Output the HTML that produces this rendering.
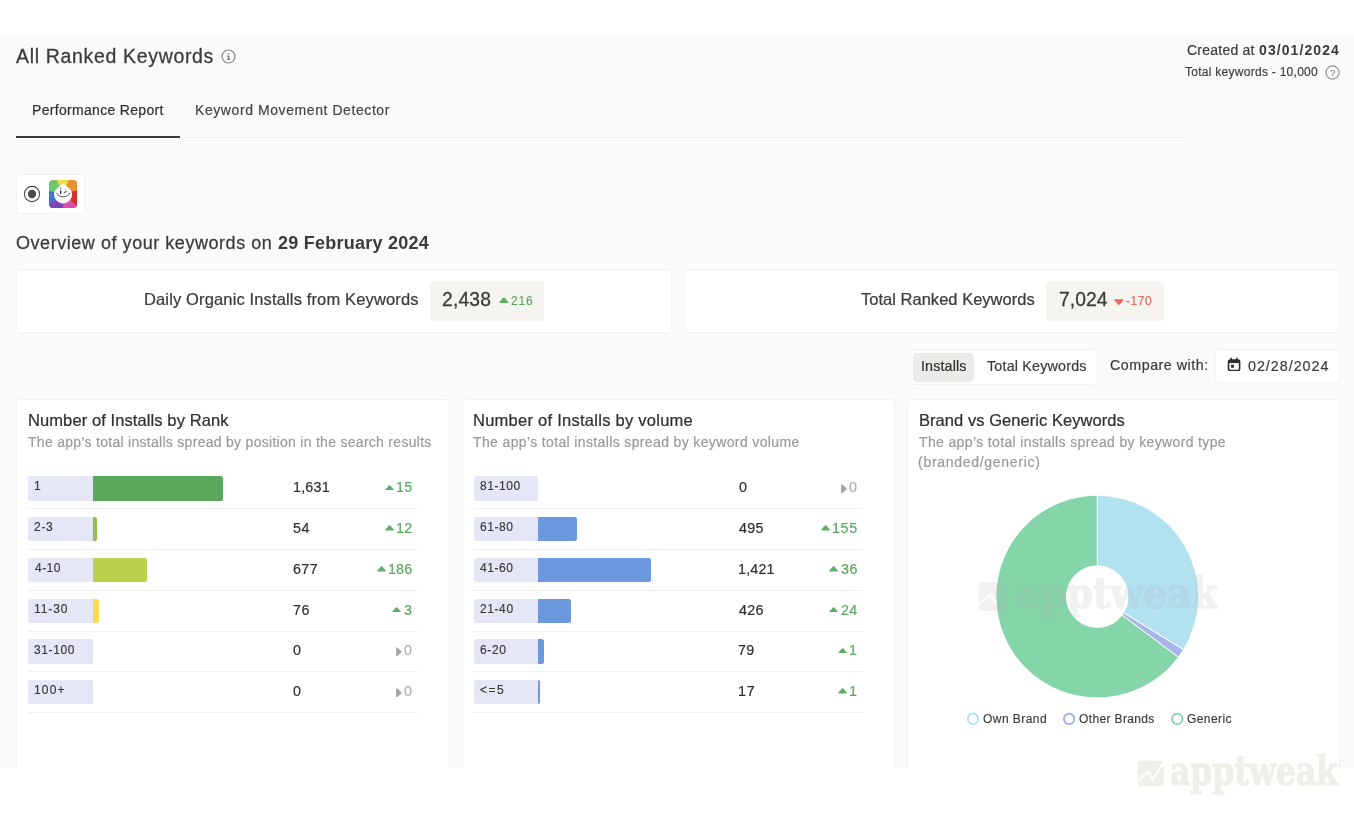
<!DOCTYPE html>
<html lang="en">
<head>
<meta charset="utf-8">
<title>All Ranked Keywords</title>
<style>
*{box-sizing:border-box;margin:0;padding:0}
html,body{width:1354px;height:814px;overflow:hidden;background:#fff}
body{font-family:"Liberation Sans",sans-serif;color:#3b3b39;position:relative}
.abs{position:absolute;white-space:nowrap}
#bg{position:absolute;left:0;top:36px;width:1354px;height:732px;background:#fafafa}
.card{position:absolute;background:#fff;border:1px solid #f3f2ef;border-radius:3.5px}
.t{position:absolute;white-space:nowrap;line-height:1;-webkit-text-stroke:0.014em}
b{-webkit-text-stroke:0}
.lab{width:65.5px;height:24.3px;background:#e5e6f6;border-radius:3px 0 0 3px}
.dv{width:388.6px;height:1px;background:#efefed}
</style>
</head>
<body>
<div id="bg"></div>

<!-- header icons -->
<svg class="abs" style="left:220.5px;top:49.15px" width="15" height="15" viewBox="0 0 15 15"><circle cx="7.5" cy="7.5" r="6.5" fill="none" stroke="#858582" stroke-width="1.2"/><rect x="6.95" y="6.7" width="1.4" height="3.6" fill="#7a7a77"/><rect x="6.85" y="4.1" width="1.45" height="1.3" fill="#7a7a77"/><rect x="5.8" y="10" width="3.5" height="0.95" fill="#7a7a77"/><rect x="5.9" y="6.7" width="1.7" height="0.95" fill="#7a7a77"/></svg>
<svg class="abs" style="left:1325.4px;top:64.9px" width="15" height="15" viewBox="0 0 15 15"><circle cx="7.5" cy="7.5" r="6.6" fill="none" stroke="#92928f" stroke-width="1.2"/></svg>

<!-- tabs -->
<div class="abs" style="left:16px;top:137px;width:1168px;height:1px;background:#efefec"></div>
<div class="abs" style="left:16px;top:136px;width:164px;height:2px;background:#3a3a38"></div>

<!-- app selector -->
<div class="card" style="left:16px;top:174px;width:68.5px;height:39.5px;border-radius:4px"></div>
<svg class="abs" style="left:23px;top:185px" width="18" height="18" viewBox="0 0 18 18"><circle cx="9" cy="9" r="7.6" fill="#fff" stroke="#4a4a47" stroke-width="1.1"/><circle cx="9" cy="9" r="4.2" fill="#4a4a47"/></svg>
<svg class="abs" style="left:48.9px;top:179.8px" width="28.2" height="28.2" viewBox="0 0 28 28">
<defs><clipPath id="rr"><rect x="0" y="0" width="28" height="28" rx="4.3" ry="4.3"/></clipPath></defs>
<g clip-path="url(#rr)">
<rect width="28" height="28" fill="#d83a32"/>
<polygon points="14,14 -2,10.7 -2,-2 6.6,-2" fill="#6fc86b"/>
<polygon points="14,14 6.6,-2 20.9,-2" fill="#f3dd4b"/>
<polygon points="14,14 20.9,-2 30,-2 30,10" fill="#e8912f"/>
<polygon points="14,14 30,10 30,23 27.6,25.6" fill="#d62f2f"/>
<polygon points="14,14 27.6,25.6 30,30 14,30" fill="#d94fa9"/>
<polygon points="14,14 14,30 -2,30 0,25.1" fill="#7b45b8"/>
<polygon points="14,14 0,25.1 -2,30 -2,10.7" fill="#4173cf"/>
<path d="M14 3.3 C14.9 3.3 15.4 4.6 16.6 5.7 C19.5 8 23 10 23 14.3 A9 9 0 0 1 5 14.3 C5 10 8.5 8 11.4 5.7 C12.6 4.6 13.1 3.3 14 3.3Z" fill="#fff"/>
<path d="M7.3 12.9 Q8.8 16.6 13.9 16.7 Q19.2 16.6 20.7 12.8" fill="none" stroke="#3a3a3a" stroke-width="0.85" stroke-linecap="round"/>
<rect x="10.9" y="10.2" width="1.25" height="3.8" rx="0.3" fill="#2b2b2b"/>
<circle cx="11.5" cy="8.4" r="0.6" fill="#3a3a3a"/>
<path d="M15.1 12.7 Q16 11.2 17.6 11.7" fill="none" stroke="#4a4a4a" stroke-width="1" stroke-linecap="round"/>
<circle cx="16.5" cy="9.5" r="0.5" fill="#8a8a8a"/>
</g></svg>

<!-- stat cards -->
<div class="card" style="left:16px;top:269px;width:656px;height:64px"></div>
<div class="card" style="left:684px;top:269px;width:656px;height:64px"></div>
<div class="abs" style="left:430px;top:280.5px;width:114.2px;height:40.2px;background:#f5f4f0;border-radius:4px"></div>
<svg class="abs" style="left:499px;top:296.9px" width="9.8" height="6.1" viewBox="0 0 10 6"><path d="M1 6 Q-0.3 6 0.5 4.9 L3.9 0.9 Q5 -0.3 6.1 0.9 L9.5 4.9 Q10.3 6 9 6 Z" fill="#5fae68"/></svg>
<div class="abs" style="left:1046.3px;top:280.5px;width:117.6px;height:40.2px;background:#f5f4f0;border-radius:4px"></div>
<svg class="abs" style="left:1114.4px;top:298.8px" width="9.9" height="6.2" viewBox="0 0 10 6"><path d="M1 0 Q-0.3 0 0.5 1.1 L3.9 5.1 Q5 6.3 6.1 5.1 L9.5 1.1 Q10.3 0 9 0 Z" fill="#e7685c"/></svg>

<!-- toggle -->
<div class="card" style="left:910px;top:349.3px;width:187.7px;height:36px"></div>
<div class="abs" style="left:913.1px;top:352.8px;width:61.3px;height:29.2px;background:#ecebe7;border-radius:4.5px"></div>
<div class="card" style="left:1215.4px;top:349.3px;width:124.2px;height:34px"></div>
<svg class="abs" style="left:1227.1px;top:356.7px" width="14.3" height="14.6" viewBox="0 0 15 15"><rect x="1.6" y="3" width="11.6" height="11" rx="1.6" fill="none" stroke="#2f2f2d" stroke-width="1.7"/><rect x="1.6" y="3" width="11.6" height="3.2" fill="#2f2f2d"/><rect x="3.6" y="0.6" width="1.7" height="3" fill="#2f2f2d"/><rect x="9.5" y="0.6" width="1.7" height="3" fill="#2f2f2d"/><rect x="4.2" y="8" width="3.1" height="3.1" fill="#2f2f2d"/></svg>

<!-- panels -->
<div class="card" style="left:16px;top:399.3px;width:433.5px;height:380px"></div>
<div class="card" style="left:462px;top:399.3px;width:432.7px;height:380px"></div>
<div class="card" style="left:907.4px;top:399.3px;width:432.2px;height:380px"></div>
<svg class="abs" style="left:0;top:0" width="1354" height="814" viewBox="0 0 1354 814"><path d="M1097.30 495.30 A101.3 101.3 0 0 1 1183.58 649.68 L1123.53 612.74 A30.8 30.8 0 0 0 1097.30 565.80 Z" fill="#b2e2f0" stroke="#fff" stroke-width="1" stroke-linejoin="round"/><path d="M1183.58 649.68 A101.3 101.3 0 0 1 1178.41 657.28 L1121.96 615.05 A30.8 30.8 0 0 0 1123.53 612.74 Z" fill="#a9b4ea" stroke="#fff" stroke-width="1" stroke-linejoin="round"/><path d="M1178.41 657.28 A101.3 101.3 0 1 1 1097.30 495.30 L1097.30 565.80 A30.8 30.8 0 1 0 1121.96 615.05 Z" fill="#84d5a8" stroke="#fff" stroke-width="1" stroke-linejoin="round"/><circle cx="973.0" cy="718.9" r="5.2" fill="#fff" stroke="#a9dff1" stroke-width="1.7"/><circle cx="1069.1" cy="718.9" r="5.2" fill="#fff" stroke="#98a8ee" stroke-width="1.7"/><circle cx="1177.2" cy="718.9" r="5.2" fill="#fff" stroke="#82d4a6" stroke-width="1.7"/></svg>
<div class="abs lab" style="left:28.45px;top:476.25px"></div>
<div class="abs" style="left:92.95px;top:476.25px;width:130.2px;height:24.3px;background:#5aa75e;border-radius:0 2.5px 2.5px 0"></div>
<svg class="abs" style="left:384.5px;top:484.50px" width="9.2" height="5.5" viewBox="0 0 10 6"><path d="M1 6 Q-0.3 6 0.5 4.9 L3.9 0.9 Q5 -0.3 6.1 0.9 L9.5 4.9 Q10.3 6 9 6 Z" fill="#5fae68"/></svg>
<div class="abs dv" style="left:28.45px;top:508.35px"></div>
<div class="abs lab" style="left:28.45px;top:517.03px"></div>
<div class="abs" style="left:92.95px;top:517.03px;width:3.8px;height:24.3px;background:#8fc04a;border-radius:0 2.5px 2.5px 0"></div>
<svg class="abs" style="left:384.5px;top:525.28px" width="9.2" height="5.5" viewBox="0 0 10 6"><path d="M1 6 Q-0.3 6 0.5 4.9 L3.9 0.9 Q5 -0.3 6.1 0.9 L9.5 4.9 Q10.3 6 9 6 Z" fill="#5fae68"/></svg>
<div class="abs dv" style="left:28.45px;top:549.13px"></div>
<div class="abs lab" style="left:28.45px;top:557.81px"></div>
<div class="abs" style="left:92.95px;top:557.81px;width:54.1px;height:24.3px;background:#bad14c;border-radius:0 2.5px 2.5px 0"></div>
<svg class="abs" style="left:376.5px;top:566.06px" width="9.2" height="5.5" viewBox="0 0 10 6"><path d="M1 6 Q-0.3 6 0.5 4.9 L3.9 0.9 Q5 -0.3 6.1 0.9 L9.5 4.9 Q10.3 6 9 6 Z" fill="#5fae68"/></svg>
<div class="abs dv" style="left:28.45px;top:589.91px"></div>
<div class="abs lab" style="left:28.45px;top:598.59px"></div>
<div class="abs" style="left:92.95px;top:598.59px;width:5.8px;height:24.3px;background:#f8dc4e;border-radius:0 2.5px 2.5px 0"></div>
<svg class="abs" style="left:391.8px;top:606.84px" width="9.2" height="5.5" viewBox="0 0 10 6"><path d="M1 6 Q-0.3 6 0.5 4.9 L3.9 0.9 Q5 -0.3 6.1 0.9 L9.5 4.9 Q10.3 6 9 6 Z" fill="#5fae68"/></svg>
<div class="abs dv" style="left:28.45px;top:630.69px"></div>
<div class="abs lab" style="left:28.45px;top:639.37px;width:64.5px"></div>
<svg class="abs" style="left:395.9px;top:646.77px" width="6" height="9.5" viewBox="0 0 6 10"><path d="M0 1 Q0 -0.3 1.1 0.5 L5.2 4 Q6.3 5 5.2 6 L1.1 9.5 Q0 10.3 0 9 Z" fill="#a3a3a0"/></svg>
<div class="abs dv" style="left:28.45px;top:671.47px"></div>
<div class="abs lab" style="left:28.45px;top:680.15px;width:64.5px"></div>
<svg class="abs" style="left:395.9px;top:687.55px" width="6" height="9.5" viewBox="0 0 6 10"><path d="M0 1 Q0 -0.3 1.1 0.5 L5.2 4 Q6.3 5 5.2 6 L1.1 9.5 Q0 10.3 0 9 Z" fill="#a3a3a0"/></svg>
<div class="abs dv" style="left:28.45px;top:712.25px"></div>
<div class="abs lab" style="left:473.85px;top:476.25px;width:64.5px"></div>
<svg class="abs" style="left:841.2px;top:483.65px" width="6" height="9.5" viewBox="0 0 6 10"><path d="M0 1 Q0 -0.3 1.1 0.5 L5.2 4 Q6.3 5 5.2 6 L1.1 9.5 Q0 10.3 0 9 Z" fill="#a3a3a0"/></svg>
<div class="abs dv" style="left:473.85px;top:508.35px"></div>
<div class="abs lab" style="left:473.85px;top:517.03px"></div>
<div class="abs" style="left:538.35px;top:517.03px;width:39.0px;height:24.3px;background:#6c99de;border-radius:0 2.5px 2.5px 0"></div>
<svg class="abs" style="left:821.0px;top:525.28px" width="9.2" height="5.5" viewBox="0 0 10 6"><path d="M1 6 Q-0.3 6 0.5 4.9 L3.9 0.9 Q5 -0.3 6.1 0.9 L9.5 4.9 Q10.3 6 9 6 Z" fill="#5fae68"/></svg>
<div class="abs dv" style="left:473.85px;top:549.13px"></div>
<div class="abs lab" style="left:473.85px;top:557.81px"></div>
<div class="abs" style="left:538.35px;top:557.81px;width:112.4px;height:24.3px;background:#6c99de;border-radius:0 2.5px 2.5px 0"></div>
<svg class="abs" style="left:829.0px;top:566.06px" width="9.2" height="5.5" viewBox="0 0 10 6"><path d="M1 6 Q-0.3 6 0.5 4.9 L3.9 0.9 Q5 -0.3 6.1 0.9 L9.5 4.9 Q10.3 6 9 6 Z" fill="#5fae68"/></svg>
<div class="abs dv" style="left:473.85px;top:589.91px"></div>
<div class="abs lab" style="left:473.85px;top:598.59px"></div>
<div class="abs" style="left:538.35px;top:598.59px;width:32.6px;height:24.3px;background:#6c99de;border-radius:0 2.5px 2.5px 0"></div>
<svg class="abs" style="left:829.0px;top:606.84px" width="9.2" height="5.5" viewBox="0 0 10 6"><path d="M1 6 Q-0.3 6 0.5 4.9 L3.9 0.9 Q5 -0.3 6.1 0.9 L9.5 4.9 Q10.3 6 9 6 Z" fill="#5fae68"/></svg>
<div class="abs dv" style="left:473.85px;top:630.69px"></div>
<div class="abs lab" style="left:473.85px;top:639.37px"></div>
<div class="abs" style="left:538.35px;top:639.37px;width:5.4px;height:24.3px;background:#6c99de;border-radius:0 2.5px 2.5px 0"></div>
<svg class="abs" style="left:838.0px;top:647.62px" width="9.2" height="5.5" viewBox="0 0 10 6"><path d="M1 6 Q-0.3 6 0.5 4.9 L3.9 0.9 Q5 -0.3 6.1 0.9 L9.5 4.9 Q10.3 6 9 6 Z" fill="#5fae68"/></svg>
<div class="abs dv" style="left:473.85px;top:671.47px"></div>
<div class="abs lab" style="left:473.85px;top:680.15px"></div>
<div class="abs" style="left:538.35px;top:680.15px;width:1.4px;height:24.3px;background:#6c99de;border-radius:0 2.5px 2.5px 0"></div>
<svg class="abs" style="left:838.0px;top:688.40px" width="9.2" height="5.5" viewBox="0 0 10 6"><path d="M1 6 Q-0.3 6 0.5 4.9 L3.9 0.9 Q5 -0.3 6.1 0.9 L9.5 4.9 Q10.3 6 9 6 Z" fill="#5fae68"/></svg>
<div class="abs dv" style="left:473.85px;top:712.25px"></div>
<div id="txt" style="position:absolute;left:0;top:0;width:1354px;height:814px;will-change:transform">
<div class="t" id="title" style="left:16px;top:47.00px;font-size:19.5px;letter-spacing:0.665px;color:#3b3b39">All Ranked Keywords</div>
<div class="t" id="created_a" style="left:1187px;top:43.00px;font-size:14px;letter-spacing:0.236px;color:#3b3b39">Created at</div>
<div class="t" id="created_b" style="left:1259px;top:43.00px;font-size:14px;letter-spacing:1.092px;color:#3b3b39"><b>03/01/2024</b></div>
<div class="t" id="totalkw" style="left:1185px;top:66.00px;font-size:12px;letter-spacing:0.271px;color:#3b3b39">Total keywords - 10,000</div>
<div class="t" id="qm" style="left:1330px;top:68.00px;font-size:9.6px;letter-spacing:0.000px;color:#858582">?</div>
<div class="t" id="tab1" style="left:32px;top:103.00px;font-size:14px;letter-spacing:0.313px;color:#2f2f2d">Performance Report</div>
<div class="t" id="tab2" style="left:195px;top:103.00px;font-size:14px;letter-spacing:0.578px;color:#454543">Keyword Movement Detector</div>
<div class="t" id="ov_a" style="left:16px;top:234.00px;font-size:18px;letter-spacing:0.546px;color:#3b3b39">Overview of your keywords on</div>
<div class="t" id="ov_b" style="left:278px;top:234.00px;font-size:18px;letter-spacing:0.250px;color:#3b3b39"><b>29 February 2024</b></div>
<div class="t" id="s1l" style="left:144px;top:291.00px;font-size:16.5px;letter-spacing:0.139px;color:#3b3b39">Daily Organic Installs from Keywords</div>
<div class="t" id="s1v" style="left:442px;top:290.00px;font-size:19.3px;letter-spacing:0.156px;color:#3b3b39">2,438</div>
<div class="t" id="s1d" style="left:511px;top:295.00px;font-size:12px;letter-spacing:0.808px;color:#5aa85f">216</div>
<div class="t" id="s2l" style="left:861px;top:291.00px;font-size:16.5px;letter-spacing:0.018px;color:#3b3b39">Total Ranked Keywords</div>
<div class="t" id="s2v" style="left:1059px;top:290.00px;font-size:19.3px;letter-spacing:0.069px;color:#3b3b39">7,024</div>
<div class="t" id="s2d" style="left:1126px;top:295.00px;font-size:12px;letter-spacing:0.579px;color:#e7685c">-170</div>
<div class="t" id="tg1" style="left:921px;top:359.00px;font-size:14.3px;letter-spacing:0.143px;color:#2f2f2d">Installs</div>
<div class="t" id="tg2" style="left:987px;top:359.00px;font-size:14.3px;letter-spacing:0.191px;color:#3b3b39">Total Keywords</div>
<div class="t" id="cmp" style="left:1110px;top:358.00px;font-size:14.3px;letter-spacing:0.502px;color:#3b3b39">Compare with:</div>
<div class="t" id="date" style="left:1248px;top:359.00px;font-size:14.3px;letter-spacing:0.984px;color:#3b3b39">02/28/2024</div>
<div class="t" id="p1t" style="left:28px;top:412.00px;font-size:16.5px;letter-spacing:0.095px;color:#2f2f2d">Number of Installs by Rank</div>
<div class="t" id="p1s" style="left:28px;top:435.00px;font-size:14px;letter-spacing:0.287px;color:#9a9a97">The app’s total installs spread by position in the search results</div>
<div class="t" id="p2t" style="left:473px;top:412.00px;font-size:16.5px;letter-spacing:0.260px;color:#2f2f2d">Number of Installs by volume</div>
<div class="t" id="p2s" style="left:473px;top:435.00px;font-size:14px;letter-spacing:0.366px;color:#9a9a97">The app’s total installs spread by keyword volume</div>
<div class="t" id="p3t" style="left:919px;top:412.00px;font-size:16.5px;letter-spacing:0.052px;color:#2f2f2d">Brand vs Generic Keywords</div>
<div class="t" id="p3s" style="left:919px;top:435.00px;font-size:14px;letter-spacing:0.362px;color:#9a9a97">The app’s total installs spread by keyword type</div>
<div class="t" id="p3s2" style="left:918px;top:455.00px;font-size:14px;letter-spacing:0.714px;color:#9a9a97">(branded/generic)</div>
<div class="t" id="lg1" style="left:983px;top:713.00px;font-size:12px;letter-spacing:0.446px;color:#3b3b39">Own Brand</div>
<div class="t" id="lg2" style="left:1079px;top:713.00px;font-size:12px;letter-spacing:0.361px;color:#3b3b39">Other Brands</div>
<div class="t" id="lg3" style="left:1187px;top:713.00px;font-size:12px;letter-spacing:0.405px;color:#3b3b39">Generic</div>
<div class="t" id="al0" style="left:34px;top:480.00px;font-size:12px;letter-spacing:0.000px;color:#3a3a38">1</div>
<div class="t" id="av0" style="left:293px;top:480.00px;font-size:14.3px;letter-spacing:0.209px;color:#2f2f2d">1,631</div>
<div class="t" id="ad0" style="left:396px;top:480.00px;font-size:14.3px;letter-spacing:0.217px;color:#5aa85f">15</div>
<div class="t" id="al1" style="left:34px;top:521.00px;font-size:12px;letter-spacing:0.714px;color:#3a3a38">2-3</div>
<div class="t" id="av1" style="left:293px;top:521.00px;font-size:14.3px;letter-spacing:0.562px;color:#2f2f2d">54</div>
<div class="t" id="ad1" style="left:396px;top:521.00px;font-size:14.3px;letter-spacing:0.306px;color:#5aa85f">12</div>
<div class="t" id="al2" style="left:35px;top:562.00px;font-size:12px;letter-spacing:0.476px;color:#3a3a38">4-10</div>
<div class="t" id="av2" style="left:293px;top:562.00px;font-size:14.3px;letter-spacing:0.405px;color:#2f2f2d">677</div>
<div class="t" id="ad2" style="left:388px;top:562.00px;font-size:14.3px;letter-spacing:0.147px;color:#5aa85f">186</div>
<div class="t" id="al3" style="left:34px;top:603.00px;font-size:12px;letter-spacing:0.912px;color:#3a3a38">11-30</div>
<div class="t" id="av3" style="left:293px;top:603.00px;font-size:14.3px;letter-spacing:0.584px;color:#2f2f2d">76</div>
<div class="t" id="ad3" style="left:404px;top:603.00px;font-size:14.3px;letter-spacing:0.000px;color:#5aa85f">3</div>
<div class="t" id="al4" style="left:34px;top:644.00px;font-size:12px;letter-spacing:0.628px;color:#3a3a38">31-100</div>
<div class="t" id="av4" style="left:293px;top:643.00px;font-size:14.3px;letter-spacing:0.000px;color:#2f2f2d">0</div>
<div class="t" id="ad4" style="left:404px;top:643.00px;font-size:14.3px;letter-spacing:0.000px;color:#adadaa">0</div>
<div class="t" id="al5" style="left:34px;top:684.00px;font-size:12px;letter-spacing:1.193px;color:#3a3a38">100+</div>
<div class="t" id="av5" style="left:293px;top:684.00px;font-size:14.3px;letter-spacing:0.000px;color:#2f2f2d">0</div>
<div class="t" id="ad5" style="left:404px;top:684.00px;font-size:14.3px;letter-spacing:0.000px;color:#adadaa">0</div>
<div class="t" id="bl0" style="left:480px;top:480.00px;font-size:12px;letter-spacing:0.547px;color:#3a3a38">81-100</div>
<div class="t" id="bv0" style="left:739px;top:480.00px;font-size:14.3px;letter-spacing:0.000px;color:#2f2f2d">0</div>
<div class="t" id="bd0" style="left:849px;top:480.00px;font-size:14.3px;letter-spacing:0.000px;color:#adadaa">0</div>
<div class="t" id="bl1" style="left:480px;top:521.00px;font-size:12px;letter-spacing:0.586px;color:#3a3a38">61-80</div>
<div class="t" id="bv1" style="left:739px;top:521.00px;font-size:14.3px;letter-spacing:0.282px;color:#2f2f2d">495</div>
<div class="t" id="bd1" style="left:832px;top:521.00px;font-size:14.3px;letter-spacing:0.625px;color:#5aa85f">155</div>
<div class="t" id="bl2" style="left:480px;top:562.00px;font-size:12px;letter-spacing:0.528px;color:#3a3a38">41-60</div>
<div class="t" id="bv2" style="left:738px;top:562.00px;font-size:14.3px;letter-spacing:0.192px;color:#2f2f2d">1,421</div>
<div class="t" id="bd2" style="left:841px;top:562.00px;font-size:14.3px;letter-spacing:0.619px;color:#5aa85f">36</div>
<div class="t" id="bl3" style="left:480px;top:603.00px;font-size:12px;letter-spacing:0.590px;color:#3a3a38">21-40</div>
<div class="t" id="bv3" style="left:739px;top:603.00px;font-size:14.3px;letter-spacing:0.275px;color:#2f2f2d">426</div>
<div class="t" id="bd3" style="left:841px;top:603.00px;font-size:14.3px;letter-spacing:0.383px;color:#5aa85f">24</div>
<div class="t" id="bl4" style="left:480px;top:644.00px;font-size:12px;letter-spacing:0.614px;color:#3a3a38">6-20</div>
<div class="t" id="bv4" style="left:738px;top:643.00px;font-size:14.3px;letter-spacing:0.270px;color:#2f2f2d">79</div>
<div class="t" id="bd4" style="left:849px;top:643.00px;font-size:14.3px;letter-spacing:0.000px;color:#5aa85f">1</div>
<div class="t" id="bl5" style="left:480px;top:684.00px;font-size:12px;letter-spacing:1.496px;color:#3a3a38">&lt;=5</div>
<div class="t" id="bv5" style="left:738px;top:684.00px;font-size:14.3px;letter-spacing:0.919px;color:#2f2f2d">17</div>
<div class="t" id="bd5" style="left:849px;top:684.00px;font-size:14.3px;letter-spacing:0.000px;color:#5aa85f">1</div>
</div>
<svg class="abs" style="left:0;top:0;pointer-events:none" width="1354" height="814" viewBox="0 0 1354 814"><defs><mask id="m1"><rect x="0" y="0" width="28.9" height="28.9" fill="#fff"/><path d="M-0.58 23.12 L11.56 12.43 L16.76 20.81 L29.48 1.16" fill="none" stroke="#000" stroke-width="2.46" stroke-linejoin="miter"/></mask></defs><g opacity="0.19"><g transform="translate(978.6 582.0)"><rect x="0" y="0" width="28.9" height="28.9" rx="3.47" fill="#b4b4b4" mask="url(#m1)"/></g><text transform="translate(1015.8 608.0) scale(0.9988 1)" x="0" y="0" font-family="DejaVu Serif Condensed, DejaVu Serif, Liberation Serif, serif" font-stretch="condensed" font-weight="bold" font-size="42" fill="#b4b4b4" stroke="#b4b4b4" stroke-width="1.1" stroke-linejoin="round">apptweak</text></g></svg>
<div class="abs" style="left:0;top:768px;width:1354px;height:46px;background:#fff"></div>
<svg class="abs" style="left:0;top:0;pointer-events:none" width="1354" height="814" viewBox="0 0 1354 814"><defs><mask id="m2"><rect x="0" y="0" width="26.2" height="26.2" fill="#fff"/><path d="M-0.52 20.96 L10.48 11.27 L15.20 18.86 L26.72 1.05" fill="none" stroke="#000" stroke-width="2.23" stroke-linejoin="miter"/></mask></defs><g opacity="1"><g transform="translate(1137.6 760.4)"><rect x="0" y="0" width="26.2" height="26.2" rx="3.14" fill="#efeee8" mask="url(#m2)"/></g><text transform="translate(1169.9 785.0) scale(0.8518 1)" x="0" y="0" font-family="DejaVu Serif Condensed, DejaVu Serif, Liberation Serif, serif" font-stretch="condensed" font-weight="bold" font-size="41" fill="#efeee8" stroke="#efeee8" stroke-width="1.1" stroke-linejoin="round">apptweak</text></g></svg>
</body>
</html>
